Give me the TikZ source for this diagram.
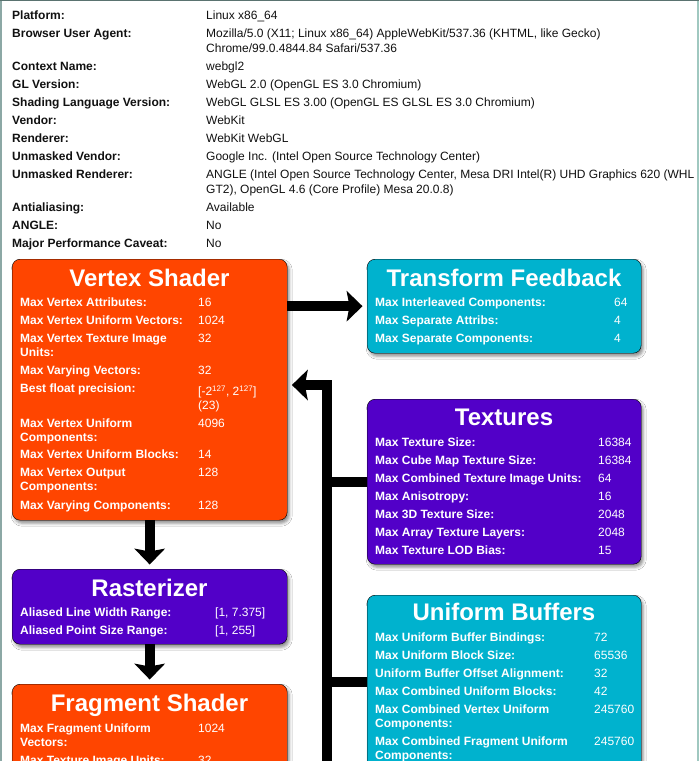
\documentclass[tikz,border=0pt]{standalone}
\usepackage{fontspec}
\setmainfont{Liberation Sans}
\usepackage{tikz}
\usetikzlibrary{arrows.meta, shadows.blur}
\definecolor{GLOrange}{RGB}{255,69,0}
\definecolor{GLPurple}{RGB}{82,0,200}
\definecolor{GLCyan}{RGB}{0,178,206}
\definecolor{GLInk}{RGB}{17,17,17}
\definecolor{GLFrameTop}{RGB}{90,115,112}
\definecolor{GLFrameLeft}{RGB}{140,168,165}
\definecolor{GLFrameRight}{RGB}{160,200,192}

\begin{document}
\begin{tikzpicture}[x=1pt, y=-1pt,
          stage/.style={rectangle, rounded corners=8pt, draw=black,
                        anchor=north west, minimum width=275pt,
                        blur shadow={shadow xshift=2pt, shadow yshift=-3pt,
                                     shadow blur radius=3pt, shadow opacity=45}},
          ttl/.style={font=\fontsize{24}{28}\selectfont\bfseries, text=white,
                      anchor=base, inner sep=0pt},
          key/.style={font=\fontsize{12}{14}\selectfont\bfseries, text=white,
                      anchor=base west, inner sep=0pt, align=left},
          val/.style={font=\fontsize{12}{14}\selectfont, text=white,
                      anchor=base west, inner sep=0pt, align=left},
          ikey/.style={key, text=GLInk, font=\fontsize{12}{14.5}\selectfont\bfseries},
          ival/.style={val, text=GLInk, font=\fontsize{12}{14.5}\selectfont},
          pipe/.style={line width=10pt, shorten >=4.5pt,
                       -{Stealth[length=16pt, width=31pt, inset=3pt, line width=0pt]}},
          bus/.style={line width=10pt}
        ]
        \clip (0,0) rectangle (699,761);
        \fill[white] (0,0) rectangle (699,761);

        % Frame
        \draw[GLFrameLeft, line width=2pt] (1,0) -- (1,761);
        \draw[GLFrameRight, line width=2pt] (698,0) -- (698,761);
        \draw[GLFrameTop, line width=1pt] (0,0.5) -- (699,0.5);

        % Context info (two-line texts sit on their last baseline)
        \node[ikey] (k1) at (12, 19.5) {Platform:};
        \node[ival] (v1) at (206, 19.5) {Linux x86\_64};
        \node[ikey] (k2) at (12, 37.5) {Browser User Agent:};
        \node[ival] (v2) at (206, 52) {Mozilla/5.0 (X11; Linux x86\_64) AppleWebKit/537.36 (KHTML, like Gecko)\\Chrome/99.0.4844.84 Safari/537.36};
        \node[ikey] (k3) at (12, 70.5) {Context Name:};
        \node[ival] (v3) at (206, 70.5) {webgl2};
        \node[ikey] (k4) at (12, 88.5) {GL Version:};
        \node[ival] (v4) at (206, 88.5) {WebGL 2.0 (OpenGL ES 3.0 Chromium)};
        \node[ikey] (k5) at (12, 106.5) {Shading Language Version:};
        \node[ival] (v5) at (206, 106.5) {WebGL GLSL ES 3.00 (OpenGL ES GLSL ES 3.0 Chromium)};
        \node[ikey] (k6) at (12, 124.5) {Vendor:};
        \node[ival] (v6) at (206, 124.5) {WebKit};
        \node[ikey] (k7) at (12, 142.5) {Renderer:};
        \node[ival] (v7) at (206, 142.5) {WebKit WebGL};
        \node[ikey] (k8) at (12, 160.5) {Unmasked Vendor:};
        \node[ival] (v8) at (206, 160.5) {Google Inc. (Intel Open Source Technology Center)};
        \node[ikey] (k9) at (12, 178.5) {Unmasked Renderer:};
        \node[ival] (v9) at (206, 193) {ANGLE (Intel Open Source Technology Center, Mesa DRI Intel(R) UHD Graphics 620 (WHL\\GT2), OpenGL 4.6 (Core Profile) Mesa 20.0.8)};
        \node[ikey] (k10) at (12, 211.5) {Antialiasing:};
        \node[ival] (v10) at (206, 211.5) {Available};
        \node[ikey] (k11) at (12, 229.5) {ANGLE:};
        \node[ival] (v11) at (206, 229.5) {No};
        \node[ikey] (k12) at (12, 247.5) {Major Performance Caveat:};
        \node[ival] (v12) at (206, 247.5) {No};

        % Stages
        \node[stage, fill=GLOrange, minimum height=261pt] (vs) at (12, 259) {};
        \node[stage, fill=GLCyan, minimum width=274pt, minimum height=94pt] (tf) at (367, 259) {};
        \node[stage, fill=GLPurple, minimum width=274pt, minimum height=165pt] (tex) at (367, 399) {};
        \node[stage, fill=GLPurple, minimum height=75pt] (ras) at (12, 569) {};
        \node[stage, fill=GLCyan, minimum width=274pt, minimum height=174pt] (ub) at (367, 595) {};
        \node[stage, fill=GLOrange, minimum height=130pt] (fs) at (12, 684) {};

        % Vertex shader
        \node[ttl] (vsT) at (149.5, 286.5) {Vertex Shader};
        \node[key] (vsK1) at (20, 306.5) {Max Vertex Attributes:};
        \node[val] (vsV1) at (198, 306.5) {16};
        \node[key] (vsK2) at (20, 324.5) {Max Vertex Uniform Vectors:};
        \node[val] (vsV2) at (198, 324.5) {1024};
        \node[key] (vsK3) at (20, 356.5) {Max Vertex Texture Image\\Units:};
        \node[val] (vsV3) at (198, 342.5) {32};
        \node[key] (vsK4) at (20, 374) {Max Varying Vectors:};
        \node[val] (vsV4) at (198, 374) {32};
        \node[key] (vsK5) at (20, 392) {Best float precision:};
        \node[val] (vsV5) at (198, 409.5) {[-2\textsuperscript{127}, 2\textsuperscript{127}]\\(23)};
        \node[key] (vsK6) at (20, 441) {Max Vertex Uniform\\Components:};
        \node[val] (vsV6) at (198, 427) {4096};
        \node[key] (vsK7) at (20, 458.5) {Max Vertex Uniform Blocks:};
        \node[val] (vsV7) at (198, 458.5) {14};
        \node[key] (vsK8) at (20, 490.5) {Max Vertex Output\\Components:};
        \node[val] (vsV8) at (198, 476.5) {128};
        \node[key] (vsK9) at (20, 509) {Max Varying Components:};
        \node[val] (vsV9) at (198, 509) {128};

        % Transform feedback
        \node[ttl] (tfT) at (504, 286.5) {Transform Feedback};
        \node[key] (tfK1) at (375, 306.5) {Max Interleaved Components:};
        \node[val] (tfV1) at (614, 306.5) {64};
        \node[key] (tfK2) at (375, 324.5) {Max Separate Attribs:};
        \node[val] (tfV2) at (614, 324.5) {4};
        \node[key] (tfK3) at (375, 342.5) {Max Separate Components:};
        \node[val] (tfV3) at (614, 342.5) {4};

        % Textures
        \node[ttl] (texT) at (504, 425.5) {Textures};
        \node[key] (texK1) at (375, 446.5) {Max Texture Size:};
        \node[val] (texV1) at (598, 446.5) {16384};
        \node[key] (texK2) at (375, 464.5) {Max Cube Map Texture Size:};
        \node[val] (texV2) at (598, 464.5) {16384};
        \node[key] (texK3) at (375, 482.5) {Max Combined Texture Image Units:};
        \node[val] (texV3) at (598, 482.5) {64};
        \node[key] (texK4) at (375, 500.5) {Max Anisotropy:};
        \node[val] (texV4) at (598, 500.5) {16};
        \node[key] (texK5) at (375, 518.5) {Max 3D Texture Size:};
        \node[val] (texV5) at (598, 518.5) {2048};
        \node[key] (texK6) at (375, 536.5) {Max Array Texture Layers:};
        \node[val] (texV6) at (598, 536.5) {2048};
        \node[key] (texK7) at (375, 554.5) {Max Texture LOD Bias:};
        \node[val] (texV7) at (598, 554.5) {15};

        % Rasterizer
        \node[ttl] (rasT) at (149.5, 596.5) {Rasterizer};
        \node[key] (rasK1) at (20, 616.5) {Aliased Line Width Range:};
        \node[val] (rasV1) at (215, 616.5) {[1, 7.375]};
        \node[key] (rasK2) at (20, 634.5) {Aliased Point Size Range:};
        \node[val] (rasV2) at (215, 634.5) {[1, 255]};

        % Uniform buffers
        \node[ttl] (ubT) at (504, 620.5) {Uniform Buffers};
        \node[key] (ubK1) at (375, 641.5) {Max Uniform Buffer Bindings:};
        \node[val] (ubV1) at (594, 641.5) {72};
        \node[key] (ubK2) at (375, 659.5) {Max Uniform Block Size:};
        \node[val] (ubV2) at (594, 659.5) {65536};
        \node[key] (ubK3) at (375, 677.5) {Uniform Buffer Offset Alignment:};
        \node[val] (ubV3) at (594, 677.5) {32};
        \node[key] (ubK4) at (375, 695.5) {Max Combined Uniform Blocks:};
        \node[val] (ubV4) at (594, 695.5) {42};
        \node[key] (ubK5) at (375, 727.5) {Max Combined Vertex Uniform\\Components:};
        \node[val] (ubV5) at (594, 713.5) {245760};
        \node[key] (ubK6) at (375, 759.5) {Max Combined Fragment Uniform\\Components:};
        \node[val] (ubV6) at (594, 745.5) {245760};

        % Fragment shader
        \node[ttl] (fsT) at (149.5, 711.5) {Fragment Shader};
        \node[key] (fsK1) at (20, 746.5) {Max Fragment Uniform\\Vectors:};
        \node[val] (fsV1) at (198, 732.5) {1024};
        \node[key] (fsK2) at (20, 764.5) {Max Texture Image Units:};
        \node[val] (fsV2) at (198, 764.5) {32};

        % Pipeline arrows
        \draw[pipe] (vs.east |- tf.west) -- (tf.west);
        \draw[pipe] (vs.south) -- (ras.north);
        \draw[pipe] (ras.south) -- (fs.north);

        % Resource bus
        \coordinate (busTop) at (326.5, 385);
        \coordinate (busEnd) at (326.5, 790);
        \draw[pipe] (busEnd) -- (busTop) -- (vs.east |- busTop);
        \draw[bus] (busTop |- tex.west) -- (tex.west);
        \draw[bus] (busTop |- ub.west) -- (ub.west);
      \end{tikzpicture}
\end{document}
